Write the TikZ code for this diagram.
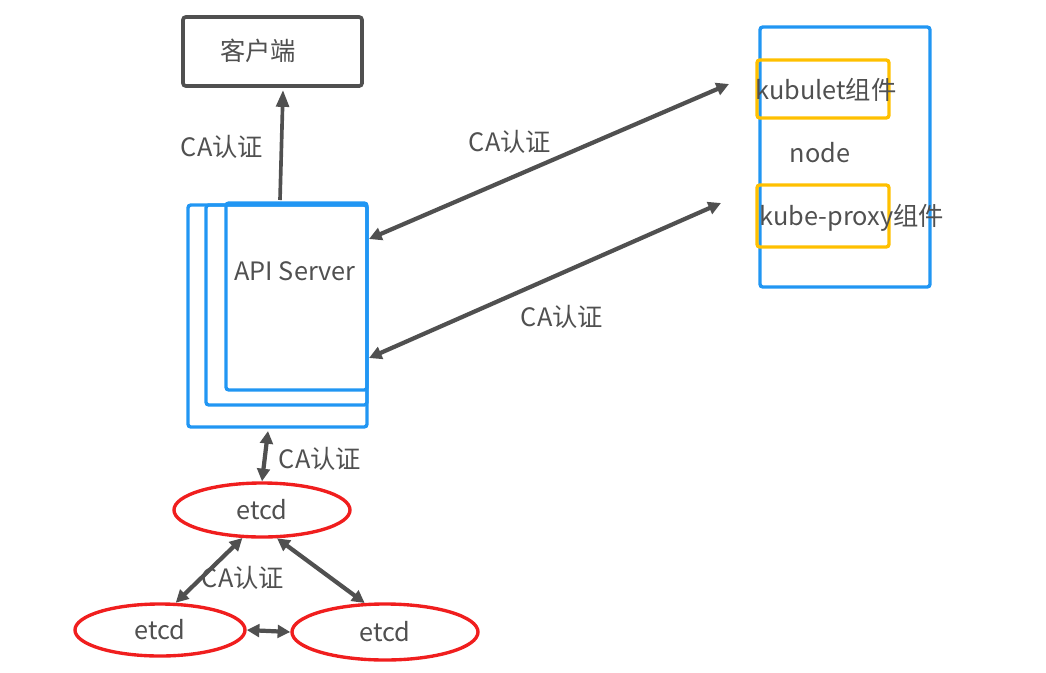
\documentclass[tikz,border=0pt]{standalone}
\usepackage{fontspec}
\setmainfont{Noto Sans CJK SC}
\usetikzlibrary{arrows.meta,shapes.geometric}
\definecolor{boxblue}{RGB}{33,150,243}
\definecolor{linegray}{RGB}{80,80,80}
\definecolor{compyellow}{RGB}{255,192,0}
\definecolor{etcdred}{RGB}{240,30,30}
\tikzset{
  label text/.style={text=linegray, font=\fontsize{18}{21}\selectfont},
  blue box/.style={draw=boxblue, line width=2.4pt, rounded corners=2pt},
  comp box/.style={draw=compyellow, line width=2.4pt, rounded corners=2pt},
  etcd node/.style={ellipse, draw=etcdred, line width=2.4pt, inner sep=0pt, label text},
  link/.style={draw=linegray, line width=3pt, {Triangle[length=9pt,width=9pt]}-{Triangle[length=9pt,width=9pt]}},
}
\begin{document}
\begin{tikzpicture}[x=0.025cm, y=-0.025cm]
  \useasboundingbox (0,0) rectangle (1046,672);
  % client
  \draw[draw=linegray, line width=2.6pt, rounded corners=2pt] (183,17) rectangle (362,86);
  \node[label text] (client) at (258,51) {客户端};
  \coordinate (client_in) at (283,90);
  % api server
  \draw[blue box] (188,205) rectangle (367,427);
  \draw[blue box] (206,205) rectangle (367,405);
  \draw[blue box] (226,203) rectangle (367,390);
  \node[label text] (api) at (295,271) {API Server};
  \coordinate (api_top) at (280,200);
  \coordinate (api_a) at (369,239);
  \coordinate (api_b) at (369,358);
  \coordinate (api_bot) at (268,431);
  % node
  \draw[blue box] (760,27) rectangle (930,287);
  \draw[comp box] (757,60) rectangle (889,118);
  \draw[comp box] (757,185) rectangle (889,247);
  \node[label text] (kubelet) at (826,90) {kubulet组件};
  \node[label text] (node) at (820,153) {node};
  \node[label text] (proxy) at (852,218) {kube-proxy组件};
  \coordinate (node_a) at (729,84);
  \coordinate (node_b) at (721,203);
  % etcd
  \node[etcd node, minimum width=4.4cm, minimum height=1.35cm] (etcd1) at (262,510) {etcd\hspace{1.2em}};
  \node[etcd node, minimum width=4.25cm, minimum height=1.3cm] (etcd2) at (160,630) {etcd\hspace{1.2em}};
  \node[etcd node, minimum width=4.65cm, minimum height=1.4cm] (etcd3) at (385,632) {etcd\hspace{1.2em}};
  % connectors
  \draw[draw=linegray, line width=2.6pt, -{Triangle[length=12pt,width=9pt]}] (api_top) -- (client_in);
  \draw[link] (api_a) -- (node_a);
  \draw[link] (api_b) -- (node_b);
  \draw[link] (api_bot) -- (etcd1.north);
  \draw[link] (etcd1.235) -- (etcd2.60);
  \draw[link] (etcd1.-62) -- (etcd3.125);
  \draw[link] (etcd2.east) -- (etcd3.west);
  % labels
  \node[label text] (ca1) at (222,147) {CA认证};
  \node[label text] (ca2) at (510,142) {CA认证};
  \node[label text] (ca3) at (562,317) {CA认证};
  \node[label text] (ca4) at (320,459) {CA认证};
  \node[label text] (ca5) at (243,578) {CA认证};
\end{tikzpicture}
\end{document}
